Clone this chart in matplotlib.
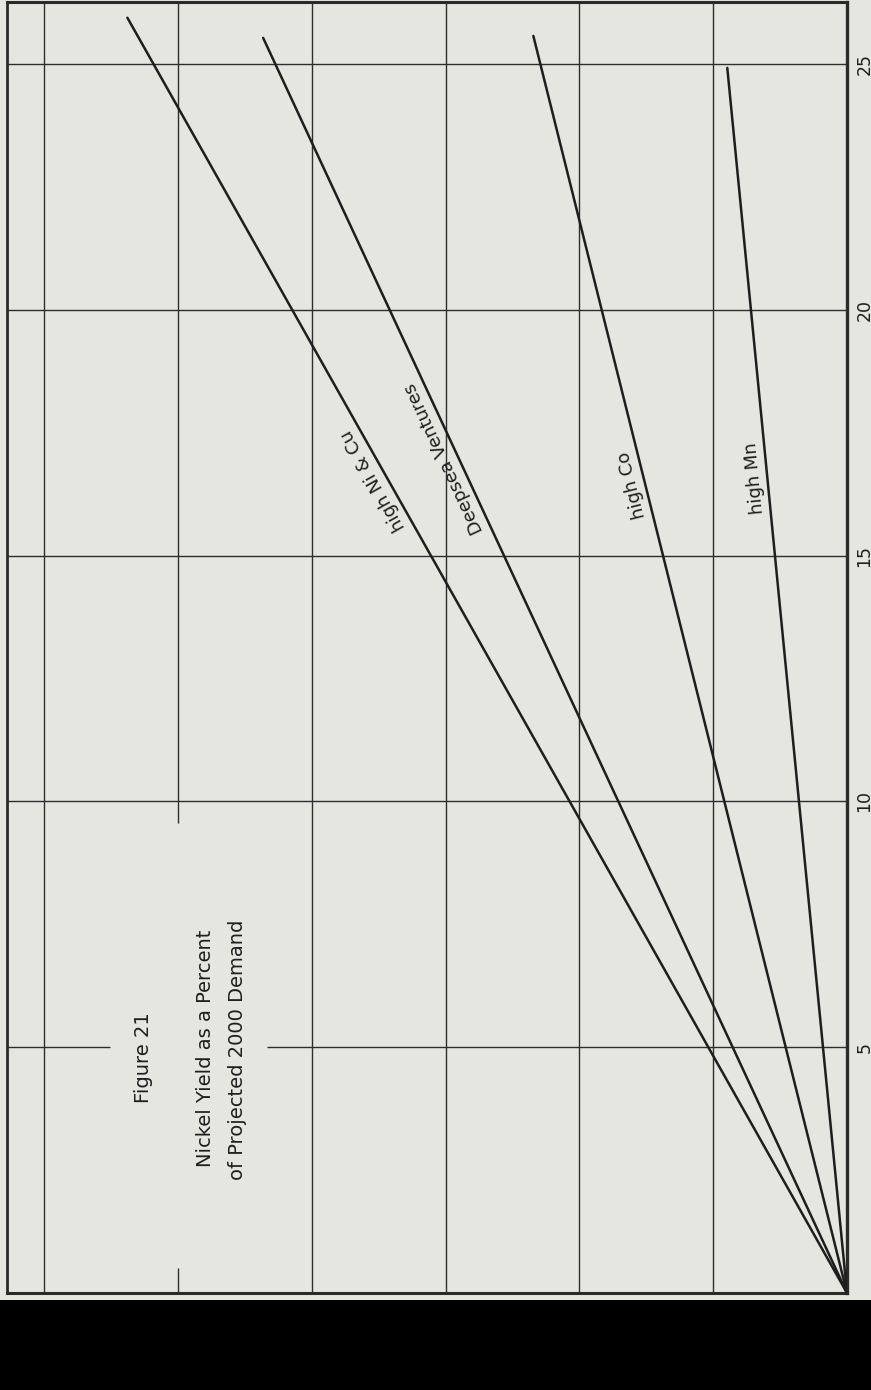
import numpy as np
import matplotlib
matplotlib.use("Agg")
import matplotlib.pyplot as plt
from matplotlib.patches import Rectangle

# ---------------- data ----------------
# Original chart is printed rotated: the 0-25 scale runs bottom-to-top along the right edge,
# the (unlabelled) percent scale increases from right to left.
x_ticks = [5, 10, 15, 20, 25]
x_tick_labels = ["5", "10", "15", "20", "25"]
pct_grid = [20, 40, 60, 80, 100, 120]

series_names = ["high Ni & Cu", "Deepsea Ventures", "high Co", "high Mn"]
ni_cu_x = [0, 25.94]
ni_cu_pct = [0, 107.6]
deepsea_x = [0, 25.53]
deepsea_pct = [0, 87.3]
co_x = [0, 25.57]
co_pct = [0, 46.9]
mn_x = [0, 24.92]
mn_pct = [0, 17.9]
series_x = [ni_cu_x, deepsea_x, co_x, mn_x]
series_pct = [ni_cu_pct, deepsea_pct, co_pct, mn_pct]
label_at_x = [16.66, 17.1, 16.5, 16.6]

title_lines = ["Figure 21", "Nickel Yield as a Percent", "of Projected 2000 Demand"]

# ---------------- style ----------------
W, H = 871, 1390
paper = "#e4e6df"
ink = "#1e1e1e"
grid_ink = "#2e2e2e"

fig = plt.figure(figsize=(W / 100, H / 100), dpi=100, facecolor=paper)

# frame in pixel coordinates: left 7, right 847, top 2, bottom 1293
L, R, T, B = 7, 847, 2, 1293
ax = fig.add_axes([L / W, (H - B) / H, (R - L) / W, (B - T) / H])
ax.set_facecolor(paper)

PCT_MAX = 125.6
X_MAX = 26.26
ax.set_xlim(PCT_MAX, 0)
ax.set_ylim(0, X_MAX)

# grid
full_v = [p for p in pct_grid if p != 100]
ax.vlines(full_v, 0, X_MAX, color=grid_ink, lw=1.0, zorder=1)
ax.vlines([100], 9.56, X_MAX, color=grid_ink, lw=1.0, zorder=1)
ax.vlines([100], 0, 0.51, color=grid_ink, lw=1.0, zorder=1)
full_h = [x for x in x_ticks if x != 5]
ax.hlines(full_h, 0, PCT_MAX, color=grid_ink, lw=1.0, zorder=1)
ax.hlines([5], 0, 86.7, color=grid_ink, lw=1.0, zorder=1)
ax.hlines([5], 110.2, PCT_MAX, color=grid_ink, lw=1.0, zorder=1)

# data lines
for xs, ps in zip(series_x, series_pct):
    ax.plot(ps, xs, color=ink, lw=1.8, solid_capstyle="round", zorder=3)

# line labels, parallel to each line, just on its left side
for name, xs, ps, lx in zip(series_names, series_x, series_pct, label_at_x):
    lp = np.interp(lx, xs, ps)
    p0 = ax.transData.transform((ps[0], xs[0]))
    p1 = ax.transData.transform((ps[-1], xs[-1]))
    ang = np.degrees(np.arctan2(p1[1] - p0[1], p1[0] - p0[0]))
    nrm = np.radians(ang + 90)
    off = 13
    ax.annotate(name, (lp, lx), xytext=(off * np.cos(nrm), off * np.sin(nrm)),
                textcoords="offset pixels", rotation=ang, rotation_mode="anchor",
                ha="center", va="center", fontsize=13, color=ink, zorder=4)

# spines
for side, lw in [("right", 2.4), ("bottom", 2.2), ("top", 2.2), ("left", 2.0)]:
    ax.spines[side].set_linewidth(lw)
    ax.spines[side].set_color("#2a2a2a")

# ticks: 0-25 scale on right edge, rotated
ax.set_xticks([])
ax.yaxis.tick_right()
ax.set_yticks(x_ticks, x_tick_labels)
ax.tick_params(axis="y", length=0, pad=6, labelsize=12.5, labelcolor=ink)
for t in ax.get_yticklabels():
    t.set_rotation(90)
    t.set_va("center")
    t.set_ha("left")

# title block (rotated)
for txt, (px, py) in zip(title_lines, [(143, 1058), (205, 1048), (237, 1050)]):
    fig.text(px / W, 1 - py / H, txt, rotation=90, ha="center", va="center",
             fontsize=14, color=ink)

# dark band at the bottom of the scan
fig.patches.append(Rectangle((0, 0), 1, 90 / H, transform=fig.transFigure,
                             facecolor="black", edgecolor="none", zorder=0))

fig.savefig("out.png", dpi=100, facecolor=paper)
